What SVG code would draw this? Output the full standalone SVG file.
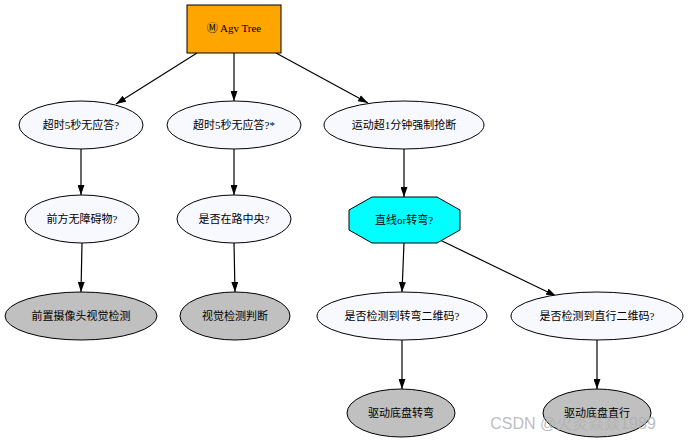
<svg xmlns="http://www.w3.org/2000/svg" width="688" height="443" viewBox="0 0 688 443">
<defs>
<marker id="ah" markerWidth="10" markerHeight="7" refX="10" refY="3.5" orient="auto" markerUnits="userSpaceOnUse" viewBox="0 0 10 7"><path d="M0,0L10,3.5L0,7z" fill="#000"/></marker>
<style>
text{font-family:"Liberation Serif","Noto Sans CJK SC",serif;font-size:11px;text-anchor:middle;dominant-baseline:central;fill:#000}
.n{fill:#f8f8ff;stroke:#000;stroke-width:1}
.g{fill:#c0c0c0;stroke:#000;stroke-width:1}
#edges line{stroke:#000;stroke-width:1.2;marker-end:url(#ah)}
</style>
</defs>
<rect width="688" height="443" fill="#fff"/>
<g id="edges">
<line x1="197" y1="53" x2="116" y2="104"/>
<line x1="234" y1="53" x2="234" y2="101"/>
<line x1="276" y1="53" x2="368" y2="103"/>
<line x1="81" y1="149" x2="81" y2="195"/>
<line x1="234" y1="149" x2="234" y2="195"/>
<line x1="404" y1="149" x2="404" y2="197"/>
<line x1="82" y1="243" x2="81" y2="292"/>
<line x1="234" y1="243" x2="235" y2="292"/>
<line x1="404" y1="243" x2="402" y2="292"/>
<line x1="440" y1="240" x2="556" y2="296"/>
<line x1="402" y1="340" x2="402" y2="389"/>
<line x1="597" y1="340" x2="597" y2="389"/>
</g>
<g id="root"><rect x="187" y="5" width="94" height="48" fill="#ffa500" stroke="#000"/><text x="234" y="28" font-size="13">Ⓜ Agv Tree</text></g>
<g id="n1"><ellipse class="n" cx="81" cy="125" rx="62" ry="24"/><text x="81" y="125">超时5秒无应答?</text></g>
<g id="n2"><ellipse class="n" cx="234" cy="125" rx="67" ry="24"/><text x="234" y="125">超时5秒无应答?*</text></g>
<g id="n3"><ellipse class="n" cx="404" cy="125" rx="80" ry="24"/><text x="404" y="125">运动超1分钟强制抢断</text></g>
<g id="n4"><ellipse class="n" cx="82" cy="219" rx="57" ry="24"/><text x="82" y="219">前方无障碍物?</text></g>
<g id="n5"><ellipse class="n" cx="234" cy="219" rx="57" ry="24"/><text x="234" y="219">是否在路中央?</text></g>
<g id="n6"><polygon points="372,197 437,197 460,210 460,230 437,243 372,243 349,230 349,210" fill="#00ffff" stroke="#000"/><text x="404" y="220">直线or转弯?</text></g>
<g id="n7"><ellipse class="g" cx="81" cy="316" rx="76" ry="24"/><text x="81" y="316">前置摄像头视觉检测</text></g>
<g id="n8"><ellipse class="g" cx="235" cy="316" rx="55" ry="24"/><text x="235" y="316">视觉检测判断</text></g>
<g id="n9"><ellipse class="n" cx="402" cy="316" rx="85" ry="24"/><text x="402" y="316">是否检测到转弯二维码?</text></g>
<g id="n10"><ellipse class="n" cx="597" cy="316" rx="86" ry="24"/><text x="597" y="316">是否检测到直行二维码?</text></g>
<g id="n11"><ellipse class="g" cx="401" cy="413" rx="54" ry="24"/><text x="401" y="413">驱动底盘转弯</text></g>
<g id="n12"><ellipse class="g" cx="597" cy="413" rx="54" ry="24"/><text x="597" y="413">驱动底盘直行</text></g>
<text x="573" y="423" style="font-family:'Liberation Sans','Noto Sans CJK SC',sans-serif;font-size:16px;fill:#b0b0b0;fill-opacity:0.85">CSDN @火炎焱燚1989</text>
</svg>
